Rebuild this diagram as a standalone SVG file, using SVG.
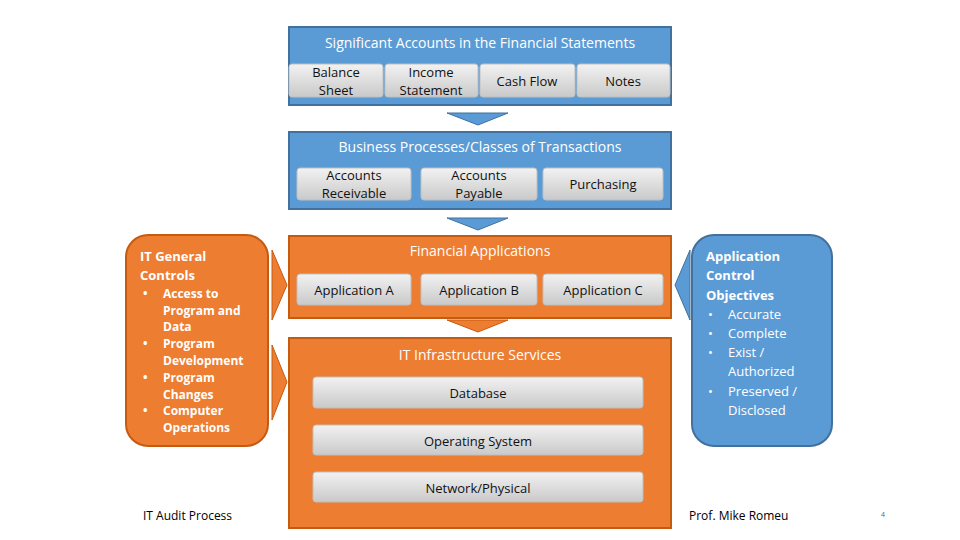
<svg xmlns="http://www.w3.org/2000/svg" width="960" height="540" viewBox="0 0 960 540">
<defs>
<linearGradient id="g" x1="0" y1="0" x2="0" y2="1"><stop offset="0" stop-color="#f2f2f2"/><stop offset="1" stop-color="#c9c9c9"/></linearGradient>
<style>
text{font-family:"Open Sans","Liberation Sans",sans-serif;font-size:13px}
.bl{fill:#5b9bd5;stroke:#41719c;stroke-width:2}
.or{fill:#ed7d31;stroke:#c55a11;stroke-width:2}
.bt{fill:url(#g);stroke:#bfbfbf;stroke-width:1}
.w{fill:#fff;font-size:14px}
.k{fill:#111;text-anchor:middle}
.wt{fill:#fff;text-anchor:middle;font-size:14px}
.s{fill:#fff;font-size:12px;font-weight:bold}
</style>
</defs>
<rect width="960" height="540" fill="#fff"/>
<g id="statements">
<rect class="bl" x="289" y="27" width="382" height="78"/>
<text class="wt" x="480" y="48">Significant Accounts in the Financial Statements</text>
<rect class="bt" x="289" y="64" width="94" height="33" rx="3"/><text class="k" x="336" y="77">Balance</text><text class="k" x="336" y="95">Sheet</text>
<rect class="bt" x="385" y="64" width="93" height="33" rx="3"/><text class="k" x="431" y="77">Income</text><text class="k" x="431" y="95">Statement</text>
<rect class="bt" x="480" y="64" width="95" height="33" rx="3"/><text class="k" x="527" y="86">Cash Flow</text>
<rect class="bt" x="577" y="64" width="93" height="33" rx="3"/><text class="k" x="623" y="86">Notes</text>
</g>
<g id="business">
<rect class="bl" x="289" y="132" width="382" height="77"/>
<text class="wt" x="480" y="152">Business Processes/Classes of Transactions</text>
<rect class="bt" x="297" y="168" width="114" height="32" rx="3"/><text class="k" x="354" y="180">Accounts</text><text class="k" x="354" y="198">Receivable</text>
<rect class="bt" x="421" y="168" width="116" height="32" rx="3"/><text class="k" x="479" y="180">Accounts</text><text class="k" x="479" y="198">Payable</text>
<rect class="bt" x="543" y="168" width="120" height="32" rx="3"/><text class="k" x="603" y="189">Purchasing</text>
</g>
<g id="finapps">
<rect class="or" x="289" y="236" width="382" height="82"/>
<text class="wt" x="480" y="256">Financial Applications</text>
<rect class="bt" x="297" y="274" width="114" height="31" rx="3"/><text class="k" x="354" y="295">Application A</text>
<rect class="bt" x="421" y="274" width="116" height="31" rx="3"/><text class="k" x="479" y="295">Application B</text>
<rect class="bt" x="543" y="274" width="120" height="31" rx="3"/><text class="k" x="603" y="295">Application C</text>
</g>
<g id="infra">
<rect class="or" x="289" y="338" width="382" height="190"/>
<text class="wt" x="480" y="360">IT Infrastructure Services</text>
<rect class="bt" x="313" y="377" width="330" height="31" rx="3"/><text class="k" x="478" y="398">Database</text>
<rect class="bt" x="313" y="425" width="330" height="30" rx="3"/><text class="k" x="478" y="446">Operating System</text>
<rect class="bt" x="313" y="472" width="330" height="30" rx="3"/><text class="k" x="478" y="493">Network/Physical</text>
</g>
<g id="itgc">
<rect class="or" x="126" y="235" width="142" height="211" rx="22"/>
<text class="s" x="140" y="261" style="font-size:13px">IT General</text>
<text class="s" x="140" y="280" style="font-size:13px">Controls</text>
<g class="s">
<text x="143" y="298" class="s">•</text><text x="163" y="298" class="s">Access to</text>
<text x="163" y="315" class="s">Program and</text>
<text x="163" y="331" class="s">Data</text>
<text x="143" y="348" class="s">•</text><text x="163" y="348" class="s">Program</text>
<text x="163" y="365" class="s">Development</text>
<text x="143" y="382" class="s">•</text><text x="163" y="382" class="s">Program</text>
<text x="163" y="399" class="s">Changes</text>
<text x="143" y="415" class="s">•</text><text x="163" y="415" class="s">Computer</text>
<text x="163" y="432" class="s">Operations</text>
</g>
</g>
<g id="aco">
<rect class="bl" x="692" y="235" width="140" height="211" rx="22"/>
<g fill="#fff" style="font-weight:bold">
<text x="706" y="261" fill="#fff" font-weight="bold">Application</text>
<text x="706" y="280" fill="#fff" font-weight="bold">Control</text>
<text x="706" y="300" fill="#fff" font-weight="bold">Objectives</text>
</g>
<text x="708" y="319" fill="#fff">•</text><text x="728" y="319" fill="#fff">Accurate</text>
<text x="708" y="338" fill="#fff">•</text><text x="728" y="338" fill="#fff">Complete</text>
<text x="708" y="357" fill="#fff">•</text><text x="728" y="357" fill="#fff">Exist /</text>
<text x="728" y="376" fill="#fff">Authorized</text>
<text x="708" y="396" fill="#fff">•</text><text x="728" y="396" fill="#fff">Preserved /</text>
<text x="728" y="415" fill="#fff">Disclosed</text>
</g>
<g id="connectors">
<polygon points="447,113 508,113 478,125" fill="#5b9bd5" stroke="#41719c"/>
<polygon points="447,218 508,218 478,230" fill="#5b9bd5" stroke="#41719c"/>
<polygon points="447,320 508,320 478,332" fill="#ed7d31" stroke="#c55a11"/>
<polygon points="272,250 287,285 272,320" fill="#ed7d31" stroke="#c55a11"/>
<polygon points="272,345 287,382 272,420" fill="#ed7d31" stroke="#c55a11"/>
<polygon points="690,250 675,285 690,320" fill="#5b9bd5" stroke="#41719c"/>
</g>
<text x="143" y="520" style="font-size:12px">IT Audit Process</text>
<text x="689" y="520" style="font-size:12px">Prof. Mike Romeu</text>
<text x="881" y="517" style="font-size:7px" fill="#666">4</text>
</svg>
